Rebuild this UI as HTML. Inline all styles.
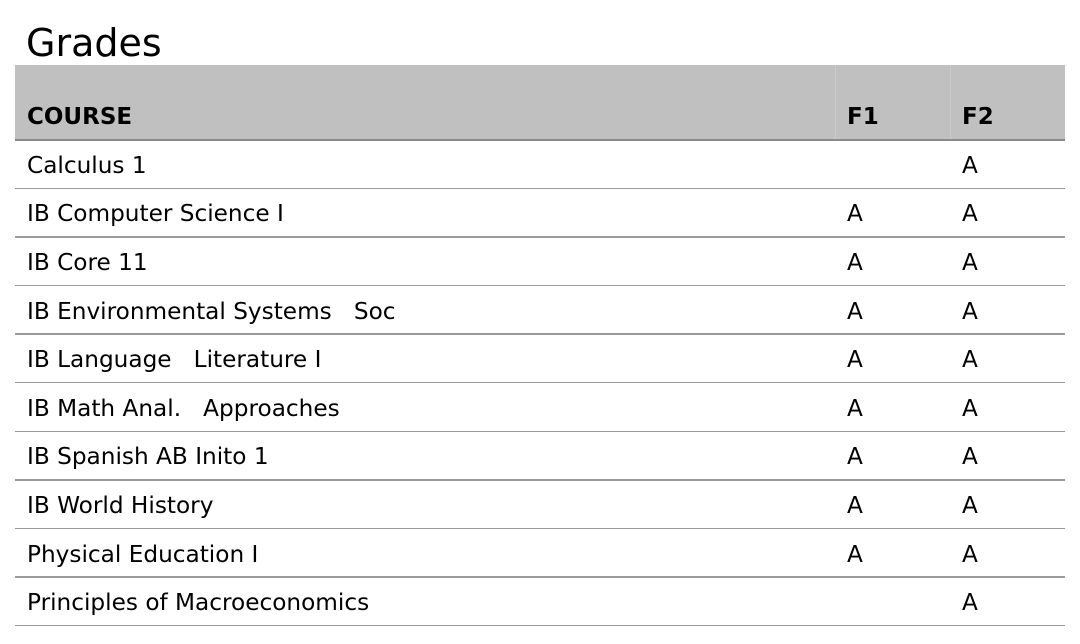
<!DOCTYPE html>
<html>
<head>
<meta charset="utf-8">
<style>
  html,body{margin:0;padding:0;background:#fff;}
  body{width:1080px;height:644px;position:relative;overflow:hidden;font-family:"DejaVu Sans","Liberation Sans",sans-serif;color:#000;}
  .title{position:absolute;left:26px;top:23px;font-size:38px;line-height:40px;white-space:nowrap;}
  .hdr{position:absolute;left:15px;top:65px;width:1050px;height:74px;background:#c0c0c0;}
  .hsep{position:absolute;top:65px;width:1px;height:74px;background:#cbcbcb;}
  .hline{position:absolute;left:15px;top:139px;width:1050px;height:2px;background:#8a8a8a;}
  .h{position:absolute;font-weight:bold;font-size:23px;line-height:30px;top:102px;white-space:nowrap;}
  .row{position:absolute;left:15px;width:1050px;height:48.6px;}
  .row .line{position:absolute;left:0;bottom:0;width:1050px;height:1.5px;background:#9a9a9a;}
  .c{position:absolute;top:1.3px;font-size:23.2px;line-height:47px;white-space:pre;}
  .c1{left:12px;}
  .c2{left:832px;}
  .c3{left:947px;}
</style>
</head>
<body>
<div class="title">Grades</div>
<div class="hdr"></div>
<div class="hsep" style="left:835px"></div>
<div class="hsep" style="left:950px"></div>
<div class="hline"></div>
<div class="h" style="left:27px">COURSE</div>
<div class="h" style="left:847px">F1</div>
<div class="h" style="left:962px">F2</div>

<div class="row" style="top:140.5px"><span class="c c1">Calculus 1</span><span class="c c2"></span><span class="c c3">A</span><div class="line"></div></div>
<div class="row" style="top:189.1px"><span class="c c1">IB Computer Science I</span><span class="c c2">A</span><span class="c c3">A</span><div class="line"></div></div>
<div class="row" style="top:237.7px"><span class="c c1">IB Core 11</span><span class="c c2">A</span><span class="c c3">A</span><div class="line"></div></div>
<div class="row" style="top:286.3px"><span class="c c1">IB Environmental Systems   Soc</span><span class="c c2">A</span><span class="c c3">A</span><div class="line"></div></div>
<div class="row" style="top:334.9px"><span class="c c1">IB Language   Literature I</span><span class="c c2">A</span><span class="c c3">A</span><div class="line"></div></div>
<div class="row" style="top:383.5px"><span class="c c1">IB Math Anal.   Approaches</span><span class="c c2">A</span><span class="c c3">A</span><div class="line"></div></div>
<div class="row" style="top:432.1px"><span class="c c1">IB Spanish AB Inito 1</span><span class="c c2">A</span><span class="c c3">A</span><div class="line"></div></div>
<div class="row" style="top:480.7px"><span class="c c1">IB World History</span><span class="c c2">A</span><span class="c c3">A</span><div class="line"></div></div>
<div class="row" style="top:529.3px"><span class="c c1">Physical Education I</span><span class="c c2">A</span><span class="c c3">A</span><div class="line"></div></div>
<div class="row" style="top:577.9px"><span class="c c1">Principles of Macroeconomics</span><span class="c c2"></span><span class="c c3">A</span><div class="line"></div></div>
</body>
</html>
